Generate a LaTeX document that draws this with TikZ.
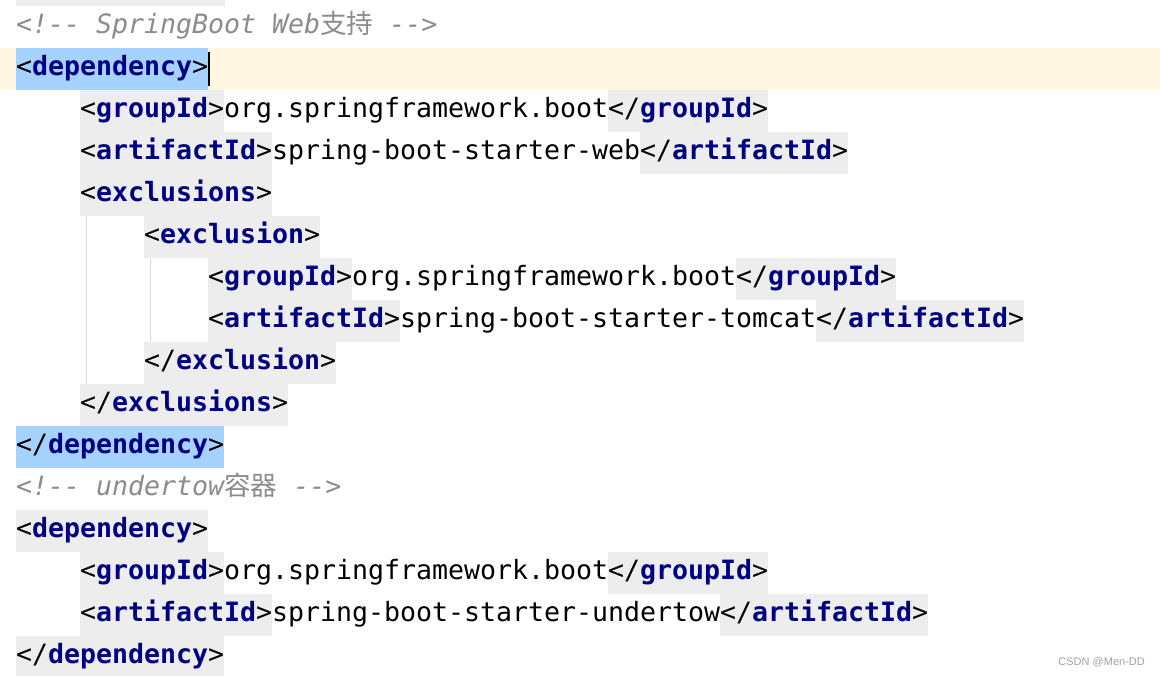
\documentclass[tikz,border=0pt]{standalone}
\usepackage{fontspec}
\setmonofont{DejaVu Sans Mono}
\newfontfamily\cjk{Noto Sans CJK SC}
\newfontfamily\wm{Liberation Sans}
\definecolor{navy}{HTML}{000080}
\definecolor{tagbg}{HTML}{EDEDED}
\definecolor{selbg}{HTML}{A6D2FF}
\definecolor{curbg}{HTML}{FEF8E2}
\definecolor{cmt}{HTML}{8C8C8C}
\definecolor{guide}{HTML}{DADADA}
\newcommand\Tg[1]{<\textbf{\color{navy}#1}>}
\newcommand\Te[1]{</\textbf{\color{navy}#1}>}
\tikzset{
  code/.style={anchor=west,inner sep=0pt,minimum height=42pt,text height=19pt,text depth=6pt,
    font=\ttfamily\fontsize{26.58}{30}\selectfont},
  tagbox/.style={code,fill=tagbg},
  selbox/.style={code,fill=selbg},
  comment/.style={code,text=cmt,font=\ttfamily\itshape\fontsize{26.58}{30}\selectfont}
}
\newcommand\cn[5][code]{\node[#1] (#2) at ({16+16*#3},{27+42*#4}) {#5};}
\begin{document}
\begin{tikzpicture}[x=1pt,y=-1pt]
\useasboundingbox (0,0) rectangle (1160,676);
\fill[white] (0,0) rectangle (1160,676);
\fill[curbg] (0,48) rectangle (1160,90);
\fill[tagbg] (16,0) rectangle (225,6);
\draw[guide,line width=1pt] (86,216) -- (86,384);
\draw[guide,line width=1pt] (150,258) -- (150,342);
% line 0
\node[comment] (c1) at (16,27) {<!-- SpringBoot Web{\cjk\upshape 支持} -->};
% line 1
\cn[selbox]{d1}{0}{1}{\Tg{dependency}}
\fill[black] (208,52) rectangle (210,86);
% line 2
\cn[tagbox]{g1o}{4}{2}{\Tg{groupId}}
\cn{g1t}{13}{2}{org.springframework.boot}
\cn[tagbox]{g1c}{37}{2}{\Te{groupId}}
% line 3
\cn[tagbox]{a1o}{4}{3}{\Tg{artifactId}}
\cn{a1t}{16}{3}{spring-boot-starter-web}
\cn[tagbox]{a1c}{39}{3}{\Te{artifactId}}
% line 4
\cn[tagbox]{exso}{4}{4}{\Tg{exclusions}}
\cn[tagbox]{exo}{8}{5}{\Tg{exclusion}}
\cn[tagbox]{g2o}{12}{6}{\Tg{groupId}}
\cn{g2t}{21}{6}{org.springframework.boot}
\cn[tagbox]{g2c}{45}{6}{\Te{groupId}}
\cn[tagbox]{a2o}{12}{7}{\Tg{artifactId}}
\cn{a2t}{24}{7}{spring-boot-starter-tomcat}
\cn[tagbox]{a2c}{50}{7}{\Te{artifactId}}
\cn[tagbox]{exc}{8}{8}{\Te{exclusion}}
\cn[tagbox]{exsc}{4}{9}{\Te{exclusions}}
\cn[selbox]{d1c}{0}{10}{\Te{dependency}}
\node[comment] (c2) at (16,489) {<!-- undertow{\cjk\upshape 容器} -->};
\cn[tagbox]{d2}{0}{12}{\Tg{dependency}}
\cn[tagbox]{g3o}{4}{13}{\Tg{groupId}}
\cn{g3t}{13}{13}{org.springframework.boot}
\cn[tagbox]{g3c}{37}{13}{\Te{groupId}}
\cn[tagbox]{a3o}{4}{14}{\Tg{artifactId}}
\cn{a3t}{16}{14}{spring-boot-starter-undertow}
\cn[tagbox]{a3c}{44}{14}{\Te{artifactId}}
\cn[tagbox]{d2c}{0}{15}{\Te{dependency}}
\node[anchor=east,inner sep=0pt,text=cmt!80,font=\wm\fontsize{11}{13}\selectfont] (wm) at (1145,662) {CSDN @Men-DD};
\end{tikzpicture}
\end{document}
